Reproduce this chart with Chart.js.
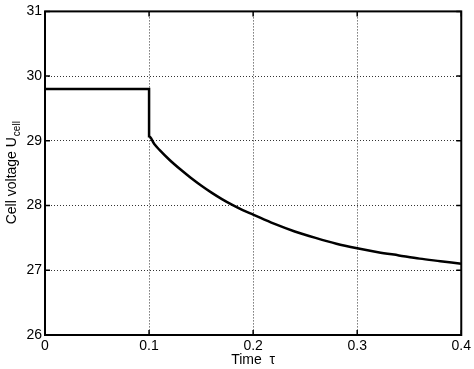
<!DOCTYPE html>
<html>
<head>
<meta charset="utf-8">
<script src="https://cdn.jsdelivr.net/npm/chart.js@4/dist/chart.umd.min.js"></script>
<style>
  html, body { margin: 0; padding: 0; background: #fff; }
  #wrap { width: 474px; height: 369px; }
</style>
</head>
<body>
<div id="wrap"><canvas id="grafico"></canvas></div>
<script>
// data
const tempo = [0, 0.1, 0.1, 0.105, 0.11, 0.12, 0.13, 0.14, 0.15, 0.16, 0.17, 0.18, 0.19, 0.2, 0.22, 0.24, 0.26, 0.28, 0.3, 0.32, 0.34, 0.36, 0.38, 0.4];
const tensao = [29.8, 29.8, 29.07, 28.95, 28.86, 28.70, 28.56, 28.43, 28.31, 28.20, 28.10, 28.01, 27.93, 27.86, 27.72, 27.60, 27.50, 27.41, 27.34, 27.28, 27.23, 27.18, 27.14, 27.10];
const xTicks = [0, 0.1, 0.2, 0.3, 0.4];
const yTicks = [26, 27, 28, 29, 30, 31];

const fonte = 'Liberation Sans, Arial, sans-serif';

// moldura + tracinhos internos + titulo do eixo y com subscrito
const molduraPlugin = {
    id: 'moldura',
    afterDraw(chart) {
        const ctx = chart.ctx;
        const a = chart.chartArea;
        const sx = chart.scales.x, sy = chart.scales.y;
        ctx.save();
        ctx.strokeStyle = '#000';
        ctx.lineWidth = 1.5;
        xTicks.forEach(v => {
            const px = sx.getPixelForValue(v);
            ctx.beginPath();
            ctx.moveTo(px, a.bottom); ctx.lineTo(px, a.bottom - 5);
            ctx.moveTo(px, a.top); ctx.lineTo(px, a.top + 5);
            ctx.stroke();
        });
        yTicks.forEach(v => {
            const py = sy.getPixelForValue(v);
            ctx.beginPath();
            ctx.moveTo(a.left, py); ctx.lineTo(a.left + 5, py);
            ctx.moveTo(a.right, py); ctx.lineTo(a.right - 5, py);
            ctx.stroke();
        });
        ctx.lineWidth = 2;
        ctx.strokeRect(a.left, a.top, a.right - a.left, a.bottom - a.top);

        // titulo y
        const main = 'Cell voltage U';
        const sub = 'cell';
        ctx.font = '14px ' + fonte;
        const w1 = ctx.measureText(main).width;
        ctx.font = '10px ' + fonte;
        const w2 = ctx.measureText(sub).width;
        const cy = (a.top + a.bottom) / 2;
        ctx.translate(16, cy);
        ctx.rotate(-Math.PI / 2);
        ctx.fillStyle = '#000';
        ctx.textBaseline = 'alphabetic';
        ctx.textAlign = 'left';
        const x0 = -(w1 + w2) / 2;
        ctx.font = '14px ' + fonte;
        ctx.fillText(main, x0, 0);
        ctx.font = '10px ' + fonte;
        ctx.fillText(sub, x0 + w1 + 1, 4);
        ctx.restore();
    }
};

const ctxLinha = document.getElementById('grafico').getContext('2d');
const graficoLinha = new Chart(ctxLinha, {
    type: 'scatter',
    data: {
        datasets: [{
            label: 'Ucell',
            data: tempo.map((t, i) => ({ x: t, y: tensao[i] })),
            showLine: true,
            borderColor: '#000',
            borderWidth: 2.5,
            pointRadius: 0,
            cubicInterpolationMode: 'monotone',
            fill: false
        }]
    },
    options: {
        responsive: true,
        maintainAspectRatio: false,
        animation: false,
        layout: { padding: { top: 6, right: 11, left: 0, bottom: 0 } },
        plugins: {
            legend: { display: false },
            tooltip: { enabled: false }
        },
        scales: {
            x: {
                type: 'linear',
                min: 0,
                max: 0.4,
                afterBuildTicks: s => { s.ticks = xTicks.map(v => ({ value: v })); },
                afterFit: s => { s.height = 34; },
                ticks: {
                    color: '#000',
                    padding: 3,
                    font: { family: fonte, size: 14 },
                    maxRotation: 0,
                    callback: v => String(Math.round(v * 10) / 10)
                },
                grid: {
                    color: '#333',
                    lineWidth: 1,
                    drawTicks: false
                },
                border: { display: false, dash: [1, 2] },
                title: {
                    display: true,
                    text: 'Time  τ',
                    color: '#000',
                    font: { family: fonte, size: 14 },
                    padding: { top: 0, bottom: 0 }
                }
            },
            y: {
                min: 26,
                max: 31,
                afterBuildTicks: s => { s.ticks = yTicks.map(v => ({ value: v })); },
                afterFit: s => { s.width = 45; },
                ticks: {
                    color: '#000',
                    padding: 3,
                    font: { family: fonte, size: 14 }
                },
                grid: {
                    color: '#333',
                    lineWidth: 1,
                    drawTicks: false
                },
                border: { display: false, dash: [1, 2] }
            }
        }
    },
    plugins: [molduraPlugin]
});
</script>
</body>
</html>
